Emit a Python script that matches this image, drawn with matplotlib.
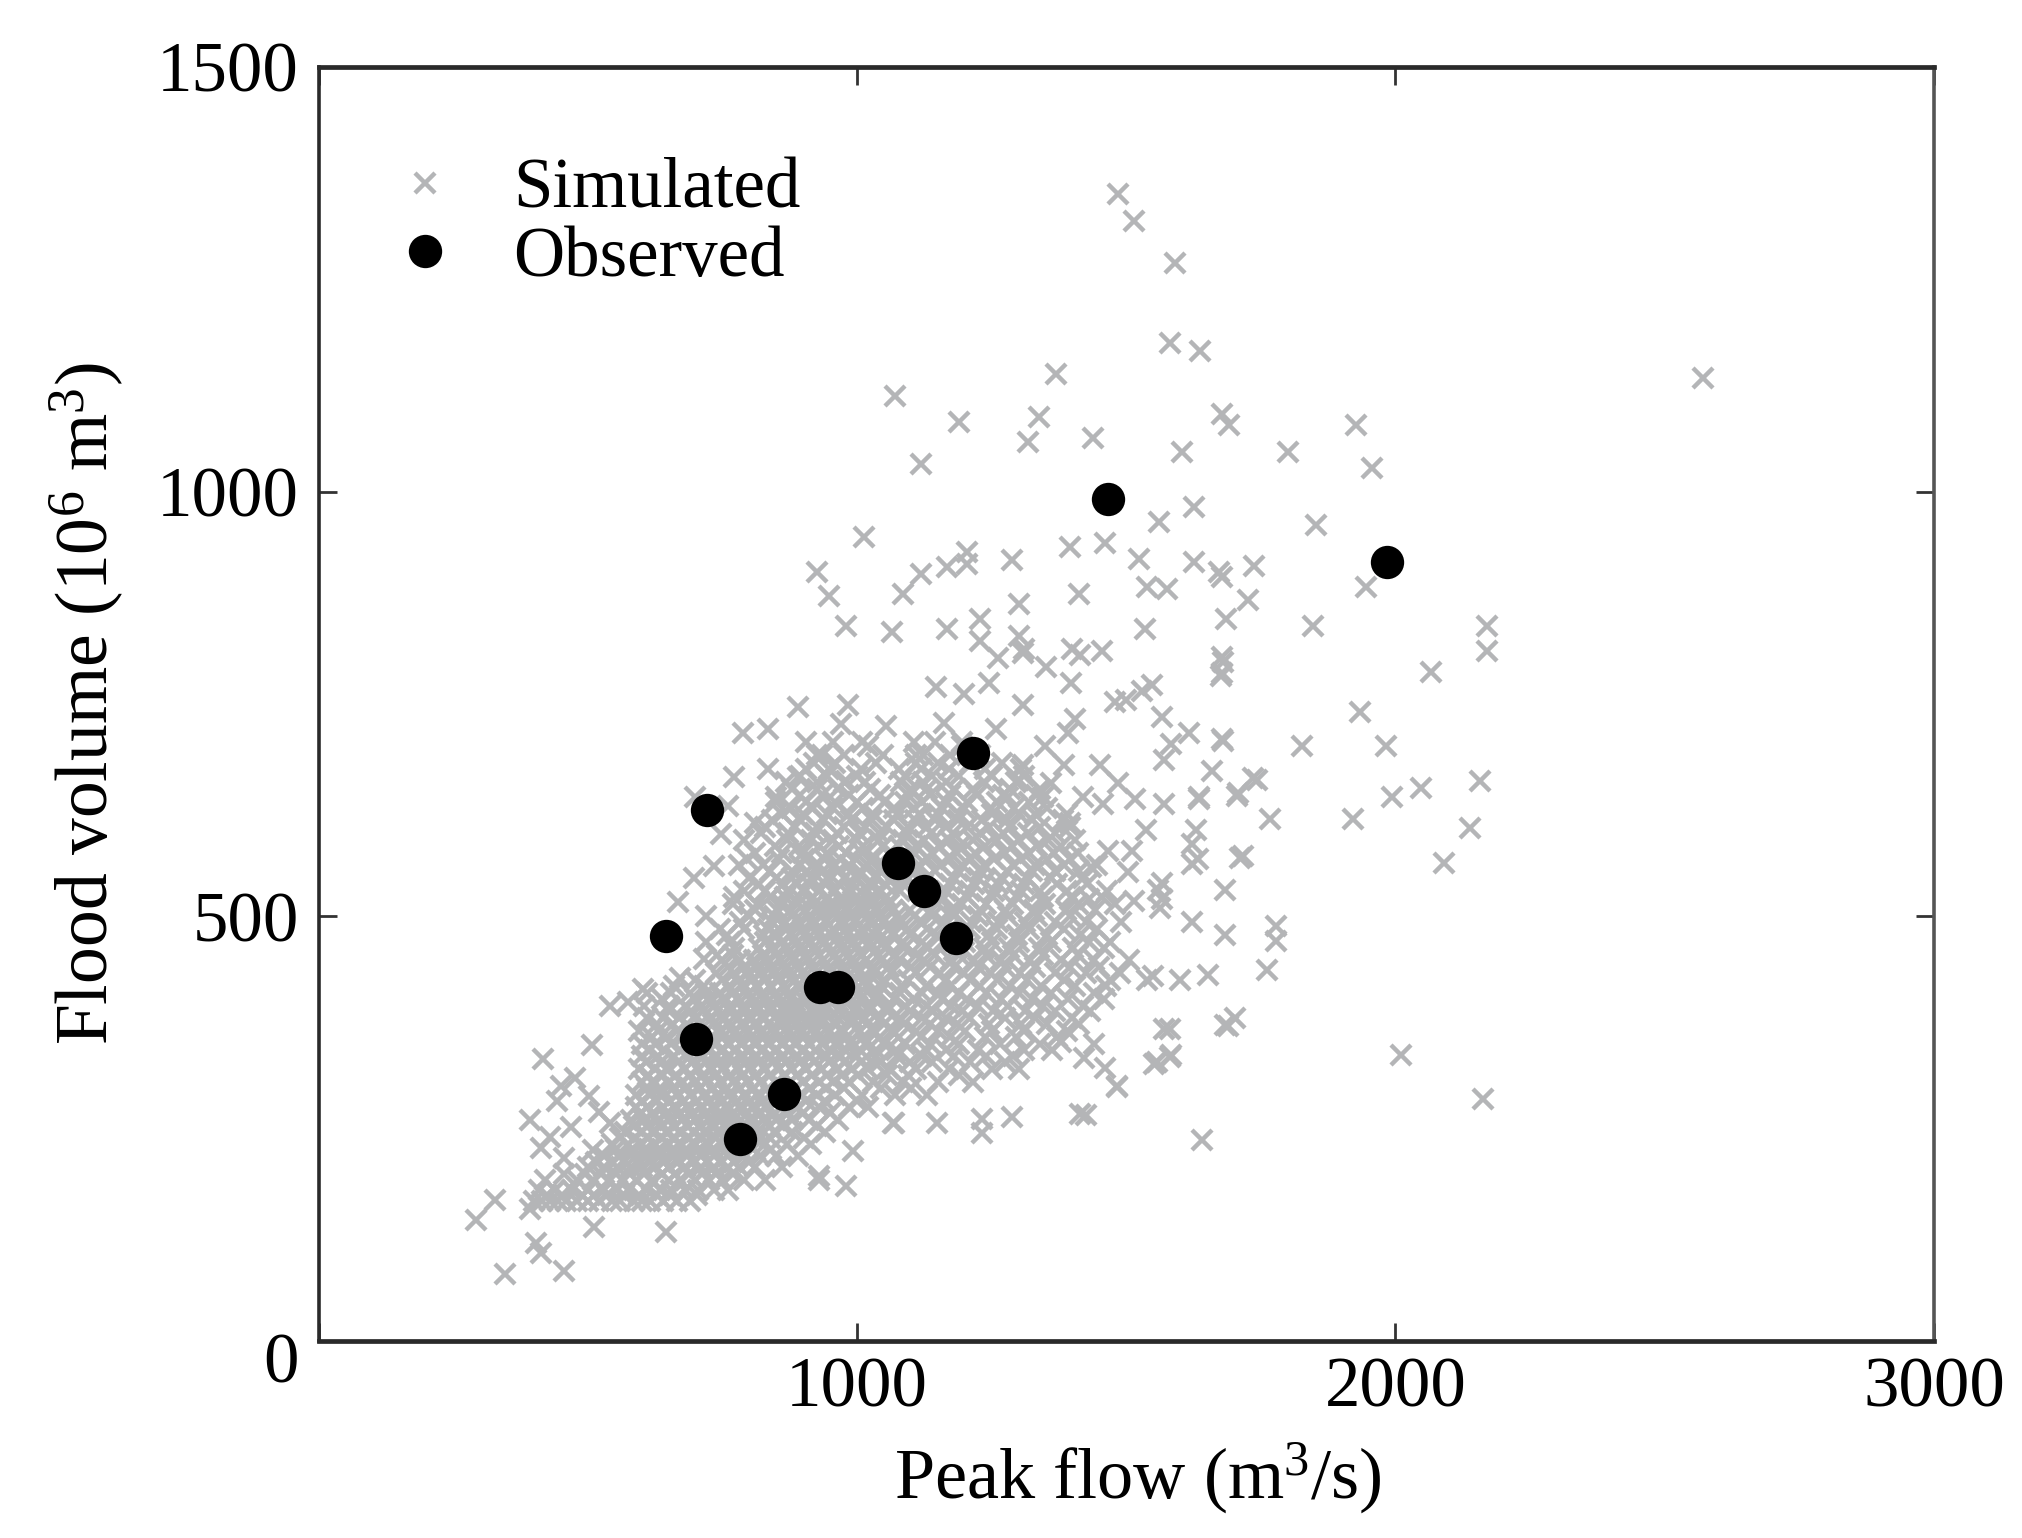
import matplotlib
matplotlib.use("Agg")
import matplotlib.pyplot as plt
from matplotlib.transforms import ScaledTranslation

plt.rcParams['font.family'] = ['Liberation Serif', 'DejaVu Serif']
plt.rcParams['mathtext.default'] = 'regular'

# observed floods
obs_x = [1467, 1985, 1216, 721, 1077, 1125, 1183, 646, 931, 965, 701, 864, 783]
obs_y = [991, 917, 692, 625, 563, 530, 475, 477, 417, 417, 355, 291, 238]

# simulated, scattered points read one by one
sim_outer = [
    (1484,1351),(1515,1319),(1590,1269),(1582,1175),(1637,1166),(2571,1134),(1070,1113),(1369,1139),
    (1338,1088),(1317,1058),(1439,1063),(1118,1032),(1190,1082),(1604,1047),(1678,1092),(1690,1078),
    (1800,1047),(1927,1078),(1956,1028),(1626,982),(1561,964),(1853,961),(1013,947),(926,905),
    (948,877),(979,842),(1065,835),(1085,879),(1118,903),(1168,911),(1204,929),(1204,915),(1288,920),
    (1300,868),(1168,838),(1228,850),(1228,824),(1396,935),(1460,940),(1413,880),(1523,921),(1539,888),
    (1575,885),(1535,838),(1626,917),(1678,900),(1672,905),(1738,912),(1726,873),(1685,850),(1946,888),
    (1846,842),(2169,842),(2169,812),(2066,788),(1678,805),(1678,786),(1934,741),(1827,701),(1982,701),
    (1994,641),(2047,651),(2157,659),(1922,615),(2138,604),(2090,563),(1779,489),(1779,471),(1762,437),
    (2011,337),(2162,285),(1640,237),(1683,372),(1702,380),(1415,267),(1425,266),(1482,299),(1551,326),
    (1582,334),(1582,367),(1539,425),(1550,430),(1599,425),(1652,431),(1623,493),(1683,478),(1683,531),
    (1712,569),(1767,615),(1743,660),(1707,645),(1678,709),(1635,638),(1623,585),(1623,562),(1559,531),
    (1563,510),(1300,830),(1310,815),(1400,815),(1455,812),(1415,808),(1351,793),(1262,804),(1308,810),
    (1679,800),(1676,783),(1480,752),(1500,755),(1530,765),(1547,772),(1397,775),(1308,749),(1146,770),
    (1199,762),(1245,775),(1258,720),(1162,728),(1053,724),(970,726),(983,749),(890,747),(834,720),
    (788,716),(1567,735),(1404,732),(1391,716),(1361,657),(1308,678),(1384,678),(1451,678),(1484,657),
    (1517,638),(1457,632),(1570,632),(1537,602),(1510,577),(1467,577),(1504,552),(1434,558),(1401,522),
    (1431,520),(1616,716),(1583,703),(1570,684),(1659,671),(1636,640),(1706,642),(1736,663),(1679,707),
    (1630,602),(1633,568),(1716,571),(1567,539),(1567,520),(1514,518),(1689,371),(1570,367),(1557,329),
    (1583,337),(1378,352),(1421,333),(1440,350),(1460,322),(1482,300),(1288,264),(1232,261),(1232,245),
    (1149,257),(1066,257),(1069,257),(993,224),(980,182),(930,190),(930,194),(327,166),(292,143),(403,115),
    (413,104),(347,79),(456,82),(512,134),(645,128),(393,155),(416,332),(507,348),(393,260),(476,310),
    (443,282),(502,289),(413,227),(469,252),(542,257),(542,394),(575,399),(602,415),(671,427),(715,450),
    (698,545),(734,559),(668,517),(771,664),(834,673),(890,664),(980,659),(748,597),(430,240),(455,215),
    (510,225),(450,300),(520,270),(700,640),(760,630),(810,610),(850,640),(925,690),(1020,700),
    (1110,690),(1195,700),(1300,660),(1345,640),(1395,610),(1420,640),(1350,700),(1280,640),
]

# simulated, dense cloud read row by row (volume, then the peak flows along that row)
row_y = [165, 178, 190, 205, 218, 232, 246, 260, 275, 290, 305, 320, 335, 350, 365, 380, 395, 410, 425,
         440, 455, 470, 485, 500, 515, 530, 545, 560, 575, 590, 605, 620, 635, 650, 665, 680]
row_x = [
    [400,415,430,445,460,480,500,520,545,560,585,600,615,640,665,690],
    [410,440,470,500,530,555,575,610,635,655,680,705,735,760],
    [420,480,510,540,565,590,620,650,672,700,725,750,790,830],
    [500,530,555,580,600,625,650,680,710,735,760,780,810,860],
    [530,560,590,610,635,660,685,710,735,760,790,820,850,890],
    [545,575,600,625,650,670,700,725,750,775,800,830,870,915],
    [570,600,620,645,670,695,715,740,765,790,815,845,880,940],
    [580,605,630,650,675,700,725,745,770,800,825,850,880,910,965],
    [590,610,640,660,685,710,730,755,780,805,830,860,890,930,985,1020],
    [590,615,635,665,690,715,740,760,790,815,840,870,895,925,960,1010,1070,1130],
    [600,620,650,675,700,720,745,770,795,820,850,875,900,930,955,985,1030,1085,1150,1215],
    [595,625,645,680,705,730,750,780,800,830,855,880,905,935,965,990,1020,1060,1110,1170,1250,1300],
    [600,630,660,690,715,740,765,790,815,840,865,890,915,945,970,1000,1035,1075,1120,1180,1240,1290],
    [600,625,655,685,710,735,760,785,810,835,860,885,910,935,960,985,1015,1050,1090,1135,1190,1265,1340],
    [595,630,665,695,720,750,775,800,825,850,875,900,925,950,975,1005,1030,1065,1110,1150,1200,1250,1310,1390],
    [610,640,670,700,730,755,780,805,830,860,885,910,935,965,990,1015,1045,1080,1120,1165,1210,1275,1330,1400],
    [605,650,680,710,735,765,790,815,840,865,890,920,945,970,1000,1025,1055,1090,1130,1175,1225,1280,1345,1420],
    [610,655,690,720,745,770,800,825,850,875,905,930,955,980,1005,1040,1080,1120,1150,1190,1240,1300,1360,1440],
    [700,750,780,805,830,855,885,910,940,965,990,1015,1050,1095,1165,1210,1260,1315,1385,1470],
    [760,790,815,840,870,895,920,950,975,1000,1030,1060,1100,1135,1180,1225,1275,1330,1395,1450],
    [740,770,825,850,880,905,930,960,985,1010,1040,1070,1110,1145,1190,1240,1290,1345,1410],
    [720,765,830,860,890,915,940,970,995,1025,1050,1085,1120,1160,1200,1250,1300,1360,1430,1470],
    [745,790,835,870,900,925,955,980,1010,1035,1060,1095,1130,1170,1210,1260,1320,1385,1445],
    [720,800,845,880,910,935,965,990,1020,1045,1075,1105,1140,1180,1225,1280,1335,1395],
    [770,815,860,890,920,950,975,1005,1030,1060,1150,1195,1240,1290,1350,1410,1480],
    [790,830,870,900,930,960,990,1020,1045,1080,1165,1210,1255,1305,1340,1390,1465],
    [800,850,880,915,945,975,1000,1035,1065,1095,1130,1180,1225,1270,1315,1360,1420],
    [780,825,895,930,960,985,1020,1050,1080,1115,1155,1195,1235,1290,1330,1385,1445],
    [810,860,900,945,980,1010,1060,1105,1140,1185,1220,1275,1320,1365,1410],
    [790,870,915,955,1000,1040,1085,1125,1170,1215,1260,1300,1355,1405],
    [830,885,925,975,1015,1055,1095,1130,1165,1205,1245,1285,1340,1395],
    [860,900,945,985,1030,1075,1115,1150,1190,1250,1300,1330,1390],
    [850,905,960,1000,1050,1090,1120,1165,1205,1260,1320],
    [880,925,965,1025,1100,1130,1180,1215,1285,1340],
    [895,945,1000,1090,1140,1190,1250,1310],
    [920,960,1035,1110,1150,1210,1270],
]

# second pass over the cloud, rows in between the first ones
row2_y = [172, 197, 211, 226, 239, 253, 268, 283, 298, 313, 328, 343, 358, 373, 388, 403, 418, 433, 448,
          463, 478, 493, 508, 523, 538, 553, 568, 583, 598, 613, 628, 643, 658, 673, 690, 705]
row2_x = [
    [425,452,490,512,535,568,595,628,652,702],
    [455,495,525,552,578,605,637,662,688,712,738,770],
    [515,545,568,592,615,642,668,695,722,748,772,800],
    [552,582,606,632,658,682,706,732,758,782,806,840],
    [560,588,612,638,662,688,712,738,762,788,812,838,902],
    [585,610,636,662,686,710,736,762,786,812,838,862,925],
    [598,622,648,672,696,722,748,772,798,822,848,872,900,950],
    [600,628,652,678,702,726,752,778,802,826,852,878,906,940,1000],
    [610,634,658,682,708,732,758,782,808,834,858,884,912,942,975,1045,1100],
    [612,640,664,690,714,738,764,788,812,838,864,888,916,944,972,1002,1055,1095,1190],
    [608,636,668,694,720,744,768,794,818,844,868,894,920,948,976,1008,1042,1098,1140,1210,1275],
    [615,642,672,698,724,748,772,796,822,848,872,898,922,950,978,1006,1036,1072,1128,1165,1225,1310,1362],
    [620,648,676,702,728,752,778,804,828,854,878,902,928,956,982,1012,1042,1078,1118,1172,1238,1295,1372],
    [628,658,684,708,732,758,784,808,834,858,884,908,934,960,988,1018,1050,1088,1135,1185,1245,1305,1352,1412],
    [650,692,714,740,764,790,814,838,864,888,914,938,966,994,1022,1056,1098,1142,1195,1252,1312,1368,1432],
    [638,700,726,752,778,802,826,852,876,900,926,952,978,1006,1032,1068,1105,1158,1205,1268,1325,1392,1458],
    [660,715,762,786,812,838,862,888,912,938,962,988,1016,1044,1082,1128,1172,1228,1285,1342,1405,1462],
    [738,772,798,822,848,872,898,924,950,976,1002,1032,1064,1110,1155,1198,1248,1302,1368,1425,1488],
    [750,782,808,834,858,882,908,936,962,988,1016,1044,1078,1124,1175,1218,1268,1322,1378,1440,1505],
    [772,818,844,868,892,918,944,970,996,1024,1052,1088,1132,1185,1235,1282,1338,1402,1458],
    [758,828,852,878,902,928,954,982,1008,1034,1066,1098,1148,1198,1245,1298,1352,1415],
    [782,842,866,892,918,942,970,996,1022,1048,1082,1118,1162,1212,1262,1312,1368,1425,1490],
    [810,852,878,904,930,956,984,1012,1038,1066,1098,1138,1175,1228,1275,1328,1388,1442],
    [772,838,866,892,918,946,972,998,1026,1054,1160,1205,1252,1298,1345,1398,1455],
    [818,862,888,910,940,966,992,1022,1052,1086,1122,1172,1218,1262,1310,1372,1428],
    [838,880,908,936,964,1006,1042,1072,1108,1145,1188,1228,1278,1325,1368,1412],
    [795,856,902,938,968,998,1030,1068,1098,1132,1172,1212,1255,1305,1352,1395],
    [848,892,930,966,1012,1048,1078,1110,1152,1192,1238,1288,1335,1378],
    [822,872,922,962,1004,1040,1092,1138,1178,1228,1272,1318,1368],
    [842,895,938,988,1028,1068,1108,1145,1188,1232,1278,1325,1382],
    [878,918,955,1012,1068,1105,1158,1198,1248,1292,1352],
    [895,935,985,1042,1095,1135,1172,1222,1272,1332],
    [868,925,975,1015,1082,1122,1165,1235,1295],
    [905,948,1008,1078,1118,1170,1238,1305],
    [935,975,1048,1122,1172,1228],
    [905,955,1010,1105,1145,1195],
]

sim_x = [p[0] for p in sim_outer]
sim_y = [p[1] for p in sim_outer]
for y, xs in zip(row_y + row2_y, row_x + row2_x):
    sim_x += xs
    sim_y += [y] * len(xs)

x_ticks = [0, 1000, 2000, 3000]
x_labels = ['', '1000', '2000', '3000']
y_ticks = [0, 500, 1000, 1500]
y_labels = ['0', '500', '1000', '1500']

W, H = 2022, 1538
fig = plt.figure(figsize=(W / 100, H / 100), dpi=100)
ax = fig.add_axes([318.5 / W, 1 - 1341 / H, (1934 - 318.5) / W, (1341 - 67) / H])

ax.plot(sim_x, sim_y, 'x', color='#b4b5b7', ms=14.5, mew=3.2, label='Simulated')
ax.plot(obs_x, obs_y, 'o', color='black', ms=24, mew=0, label='Observed')

ax.set_xlim(0, 3000)
ax.set_ylim(0, 1500)
ax.set_xticks(x_ticks, x_labels)
ax.set_yticks(y_ticks, y_labels)
ax.tick_params(direction='in', length=13, width=2, color='#333333', top=True, right=True,
               labelsize=51, pad=14)
ax.tick_params(axis='x', pad=11)

# the 0 sits a little below its tick in the original
zero = ax.get_yticklabels()[0]
zero.set_transform(zero.get_transform() + ScaledTranslation(0, -12 / 72, fig.dpi_scale_trans))

for side in ax.spines.values():
    side.set_linewidth(2.6)
    side.set_color('#2a2a2a')
ax.spines['bottom'].set_linewidth(3.4)
ax.spines['top'].set_linewidth(3.4)
ax.spines['right'].set_color('#555555')

ax.set_xlabel('Peak flow (m$^3$/s)', fontsize=52)
ax.xaxis.set_label_coords(0.507, -0.078)
ax.set_ylabel('Flood volume (10$^6$ m$^3$)', fontsize=53)
ax.yaxis.set_label_coords(-0.119, 0.5)

ax.legend(loc='upper left', bbox_to_anchor=(0.044, 0.929), frameon=False, fontsize=51,
          handlelength=1, handletextpad=0.75, labelspacing=0.05, borderaxespad=0, borderpad=0,
          numpoints=1)

fig.savefig('out.png', dpi=100)
